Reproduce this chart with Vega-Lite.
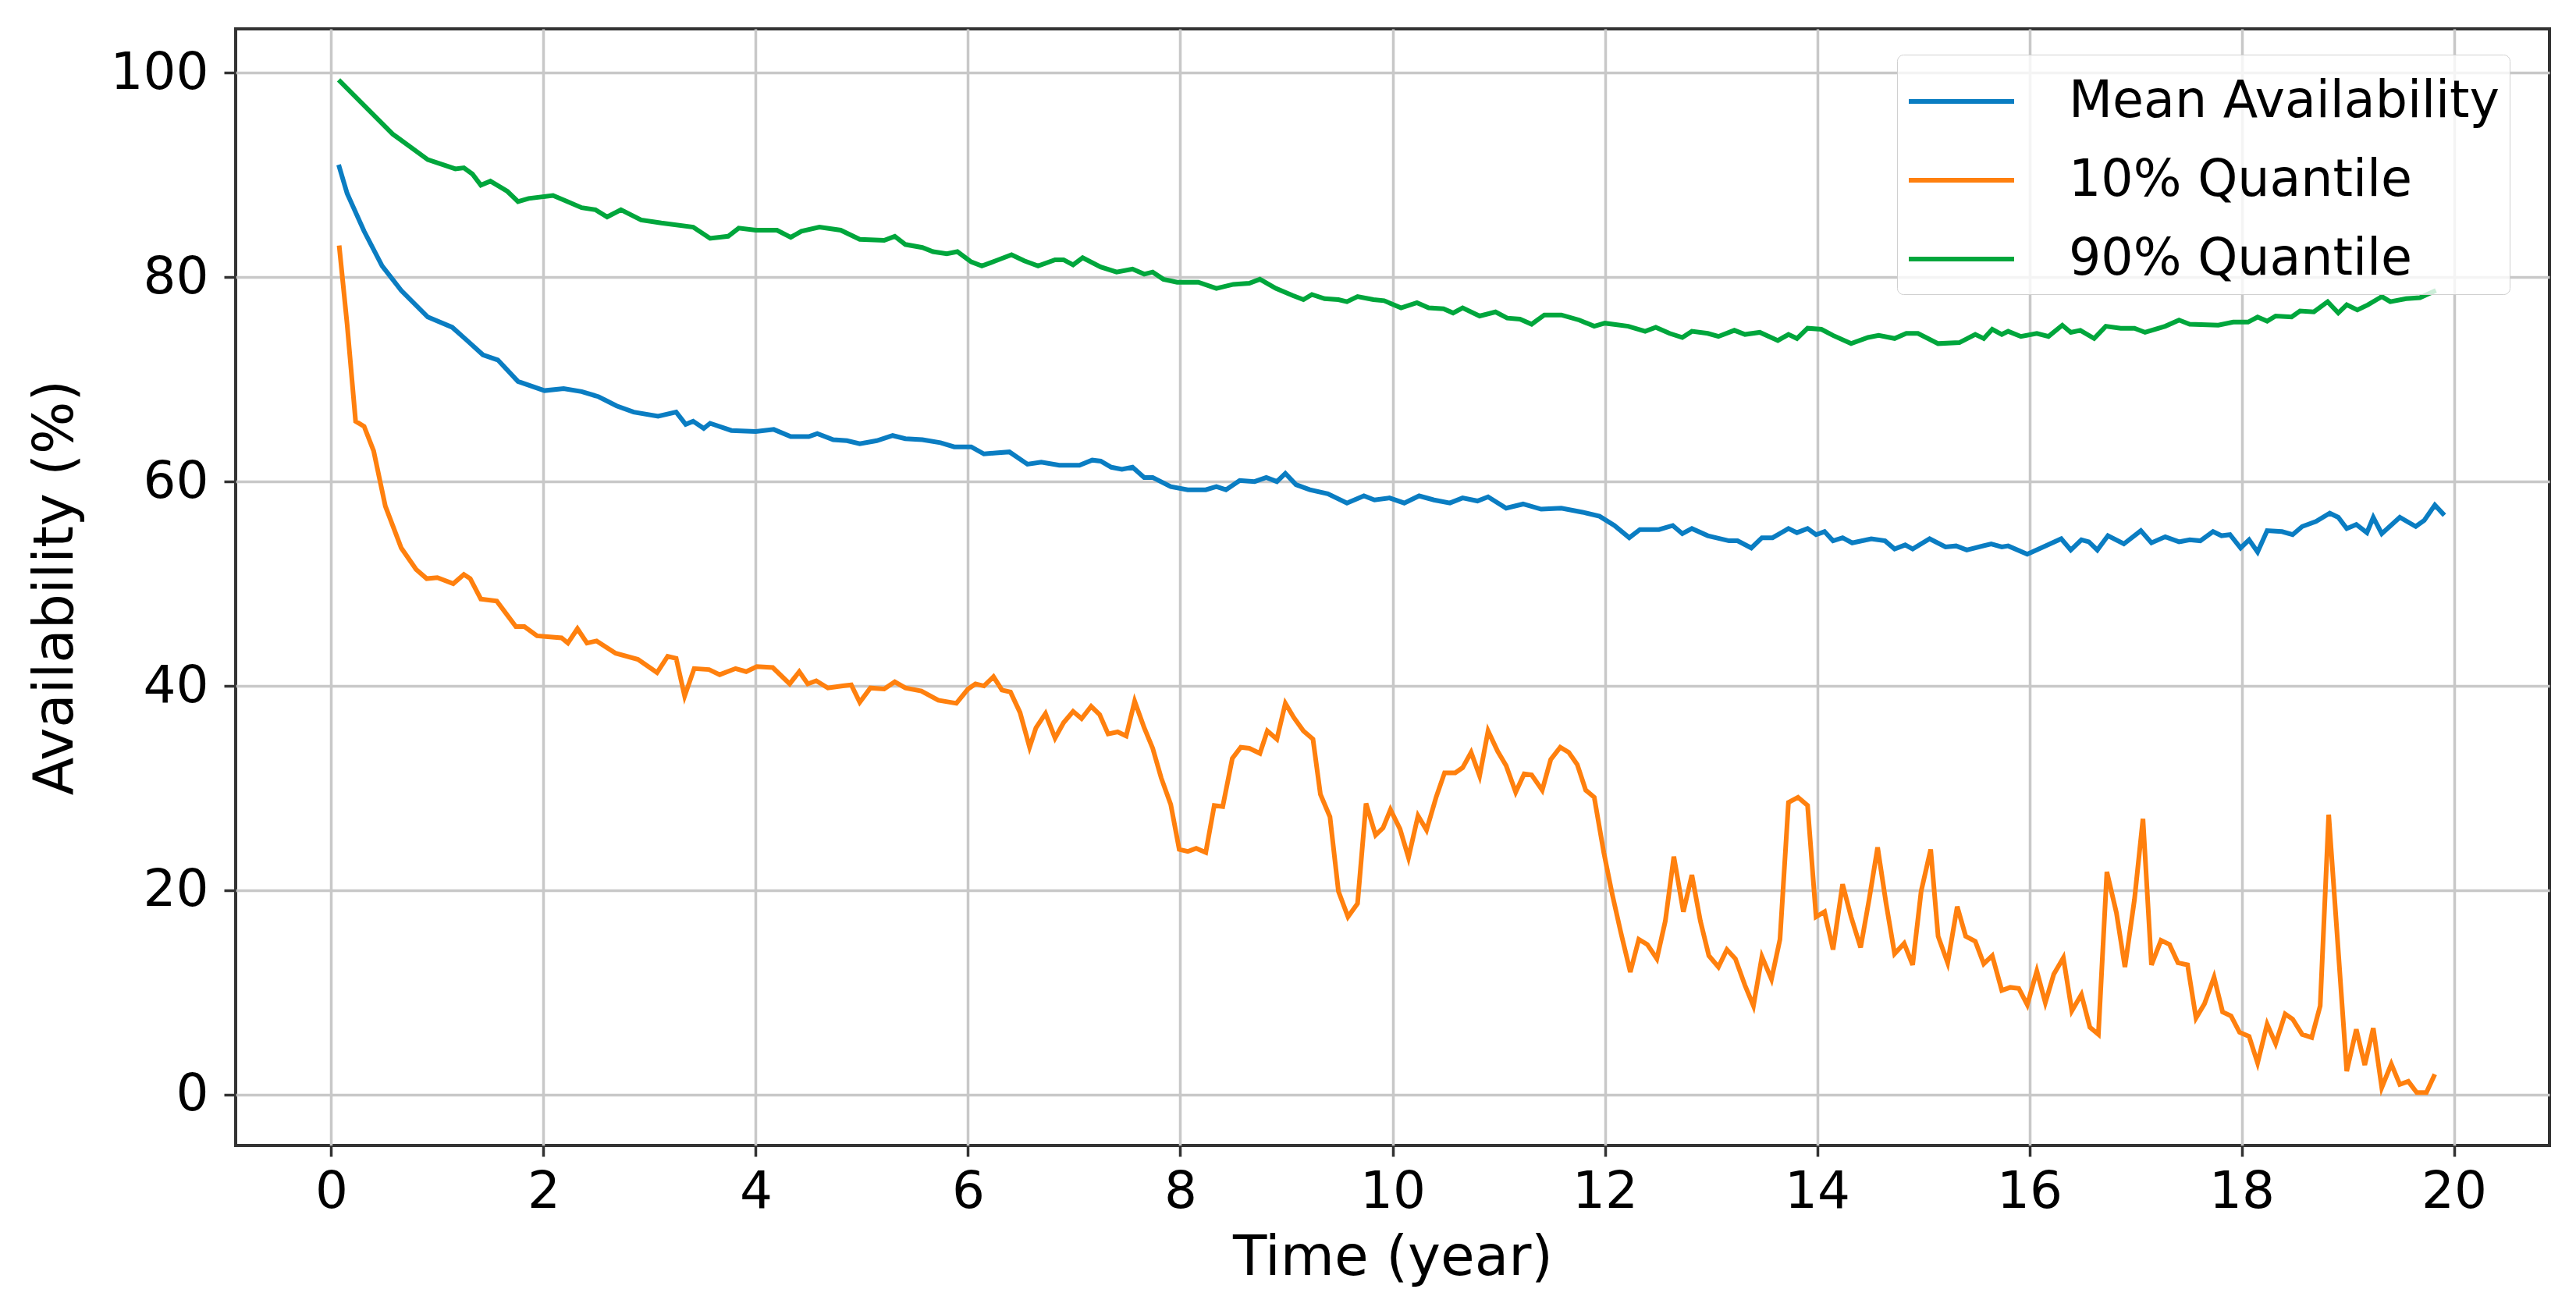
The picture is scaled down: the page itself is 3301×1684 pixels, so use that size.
{
  "$schema": "https://vega.github.io/schema/vega-lite/v6.json",
  "width": 2965,
  "height": 1431,
  "autosize": {"type": "none"},
  "padding": {"left": 302, "top": 37, "right": 34, "bottom": 216},
  "background": "white",
  "encoding": {
    "x": {
      "field": "t",
      "type": "quantitative",
      "title": "Time (year)",
      "scale": {"domain": [-0.9, 20.9], "nice": false, "zero": false},
      "axis": {"values": [0, 2, 4, 6, 8, 10, 12, 14, 16, 18, 20], "labelPadding": 13, "titlePadding": 17, "tickSize": 14}
    },
    "y": {
      "field": "v",
      "type": "quantitative",
      "title": "Availability (%)",
      "scale": {"domain": [-4.97, 104.3], "nice": false, "zero": false},
      "axis": {"values": [0, 20, 40, 60, 80, 100], "labelPadding": 20, "titlePadding": 34, "tickSize": 15}
    }
  },
  "layer": [
    {
      "data": {"values": [
        {"t":0.07,"v":91.0},{"t":0.15,"v":88.2},{"t":0.31,"v":84.5},{"t":0.48,"v":81.1},{"t":0.66,"v":78.7},{"t":0.91,"v":76.1},
        {"t":1.14,"v":75.1},{"t":1.27,"v":73.9},{"t":1.43,"v":72.4},{"t":1.57,"v":71.9},{"t":1.76,"v":69.8},{"t":2.01,"v":68.9},
        {"t":2.19,"v":69.1},{"t":2.36,"v":68.8},{"t":2.52,"v":68.3},{"t":2.69,"v":67.4},{"t":2.85,"v":66.8},{"t":3.08,"v":66.4},
        {"t":3.25,"v":66.8},{"t":3.34,"v":65.6},{"t":3.41,"v":65.9},{"t":3.51,"v":65.2},{"t":3.57,"v":65.7},{"t":3.77,"v":65.0},
        {"t":4.0,"v":64.9},{"t":4.17,"v":65.1},{"t":4.33,"v":64.4},{"t":4.5,"v":64.4},{"t":4.58,"v":64.7},{"t":4.73,"v":64.1},
        {"t":4.86,"v":64.0},{"t":4.98,"v":63.7},{"t":5.14,"v":64.0},{"t":5.29,"v":64.5},{"t":5.41,"v":64.2},{"t":5.57,"v":64.1},
        {"t":5.74,"v":63.8},{"t":5.87,"v":63.4},{"t":6.03,"v":63.4},{"t":6.15,"v":62.7},{"t":6.26,"v":62.8},{"t":6.39,"v":62.9},
        {"t":6.56,"v":61.7},{"t":6.69,"v":61.9},{"t":6.86,"v":61.6},{"t":7.05,"v":61.6},{"t":7.17,"v":62.1},{"t":7.25,"v":62.0},
        {"t":7.35,"v":61.4},{"t":7.45,"v":61.2},{"t":7.55,"v":61.4},{"t":7.66,"v":60.4},{"t":7.74,"v":60.4},{"t":7.91,"v":59.5},
        {"t":8.07,"v":59.2},{"t":8.24,"v":59.2},{"t":8.34,"v":59.5},{"t":8.43,"v":59.2},{"t":8.56,"v":60.1},{"t":8.7,"v":60.0},
        {"t":8.81,"v":60.4},{"t":8.91,"v":60.0},{"t":8.99,"v":60.8},{"t":9.09,"v":59.7},{"t":9.22,"v":59.2},{"t":9.39,"v":58.8},
        {"t":9.57,"v":57.9},{"t":9.73,"v":58.6},{"t":9.83,"v":58.2},{"t":9.97,"v":58.4},{"t":10.11,"v":57.9},{"t":10.25,"v":58.6},
        {"t":10.39,"v":58.2},{"t":10.54,"v":57.9},{"t":10.66,"v":58.4},{"t":10.8,"v":58.1},{"t":10.9,"v":58.5},{"t":11.07,"v":57.4},
        {"t":11.23,"v":57.8},{"t":11.4,"v":57.3},{"t":11.59,"v":57.4},{"t":11.79,"v":57.0},{"t":11.95,"v":56.6},{"t":12.09,"v":55.7},
        {"t":12.23,"v":54.5},{"t":12.33,"v":55.3},{"t":12.51,"v":55.3},{"t":12.64,"v":55.7},{"t":12.73,"v":54.9},{"t":12.82,"v":55.4},
        {"t":12.97,"v":54.7},{"t":13.17,"v":54.2},{"t":13.25,"v":54.2},{"t":13.38,"v":53.5},{"t":13.48,"v":54.5},{"t":13.58,"v":54.5},
        {"t":13.73,"v":55.4},{"t":13.81,"v":55.0},{"t":13.91,"v":55.4},{"t":13.99,"v":54.8},{"t":14.07,"v":55.1},{"t":14.15,"v":54.2},
        {"t":14.24,"v":54.5},{"t":14.33,"v":54.0},{"t":14.51,"v":54.4},{"t":14.64,"v":54.2},{"t":14.73,"v":53.4},{"t":14.83,"v":53.8},
        {"t":14.9,"v":53.4},{"t":15.06,"v":54.4},{"t":15.21,"v":53.6},{"t":15.31,"v":53.7},{"t":15.41,"v":53.3},{"t":15.64,"v":53.9},
        {"t":15.74,"v":53.6},{"t":15.8,"v":53.7},{"t":15.98,"v":52.9},{"t":16.13,"v":53.6},{"t":16.3,"v":54.4},{"t":16.39,"v":53.3},
        {"t":16.49,"v":54.3},{"t":16.56,"v":54.1},{"t":16.64,"v":53.3},{"t":16.74,"v":54.7},{"t":16.89,"v":53.9},{"t":17.05,"v":55.2},
        {"t":17.15,"v":54.0},{"t":17.28,"v":54.6},{"t":17.41,"v":54.1},{"t":17.51,"v":54.3},{"t":17.61,"v":54.2},{"t":17.73,"v":55.1},
        {"t":17.81,"v":54.7},{"t":17.89,"v":54.8},{"t":17.99,"v":53.5},{"t":18.07,"v":54.3},{"t":18.15,"v":53.1},{"t":18.24,"v":55.2},
        {"t":18.38,"v":55.1},{"t":18.48,"v":54.8},{"t":18.57,"v":55.6},{"t":18.7,"v":56.1},{"t":18.83,"v":56.9},{"t":18.91,"v":56.5},
        {"t":18.99,"v":55.4},{"t":19.08,"v":55.8},{"t":19.18,"v":55.0},{"t":19.24,"v":56.5},{"t":19.32,"v":54.9},{"t":19.49,"v":56.5},
        {"t":19.64,"v":55.6},{"t":19.72,"v":56.2},{"t":19.82,"v":57.7},{"t":19.91,"v":56.7}
      ]},
      "mark": {"type": "line", "strokeWidth": 6},
      "encoding": {
        "color": {
          "datum": "Mean Availability",
          "type": "nominal",
          "scale": {
            "domain": ["Mean Availability", "10% Quantile", "90% Quantile"],
            "range": ["#0a7dc2", "#ff800e", "#00a63c"]
          },
          "legend": {"orient": "none", "legendX": 2129, "legendY": 33, "title": null}
        }
      }
    },
    {
      "data": {"values": [
        {"t":0.075,"v":83.1},{"t":0.15,"v":75.4},{"t":0.23,"v":65.9},{"t":0.31,"v":65.4},{"t":0.4,"v":63.0},{"t":0.51,"v":57.6},
        {"t":0.66,"v":53.5},{"t":0.8,"v":51.4},{"t":0.9,"v":50.5},{"t":1.0,"v":50.6},{"t":1.15,"v":50.0},{"t":1.25,"v":50.9},
        {"t":1.31,"v":50.5},{"t":1.41,"v":48.5},{"t":1.56,"v":48.3},{"t":1.74,"v":45.8},{"t":1.82,"v":45.8},{"t":1.94,"v":44.9},
        {"t":2.17,"v":44.7},{"t":2.23,"v":44.2},{"t":2.32,"v":45.6},{"t":2.41,"v":44.2},{"t":2.5,"v":44.4},{"t":2.68,"v":43.2},
        {"t":2.89,"v":42.6},{"t":3.07,"v":41.3},{"t":3.17,"v":42.9},{"t":3.25,"v":42.7},{"t":3.33,"v":39.0},{"t":3.42,"v":41.7},
        {"t":3.56,"v":41.6},{"t":3.66,"v":41.1},{"t":3.81,"v":41.7},{"t":3.91,"v":41.4},{"t":4.01,"v":41.9},{"t":4.16,"v":41.8},
        {"t":4.32,"v":40.2},{"t":4.41,"v":41.4},{"t":4.49,"v":40.2},{"t":4.57,"v":40.5},{"t":4.68,"v":39.8},{"t":4.82,"v":40.0},
        {"t":4.9,"v":40.1},{"t":4.98,"v":38.4},{"t":5.08,"v":39.8},{"t":5.21,"v":39.7},{"t":5.31,"v":40.4},{"t":5.41,"v":39.8},
        {"t":5.56,"v":39.5},{"t":5.72,"v":38.6},{"t":5.89,"v":38.3},{"t":6.0,"v":39.7},{"t":6.07,"v":40.2},{"t":6.15,"v":40.0},
        {"t":6.24,"v":40.9},{"t":6.32,"v":39.6},{"t":6.4,"v":39.4},{"t":6.49,"v":37.4},{"t":6.58,"v":34.0},{"t":6.64,"v":35.9},
        {"t":6.73,"v":37.3},{"t":6.82,"v":34.9},{"t":6.9,"v":36.4},{"t":6.99,"v":37.5},{"t":7.07,"v":36.8},{"t":7.16,"v":38.0},
        {"t":7.24,"v":37.2},{"t":7.32,"v":35.3},{"t":7.41,"v":35.5},{"t":7.49,"v":35.1},{"t":7.57,"v":38.5},{"t":7.66,"v":35.9},
        {"t":7.74,"v":33.9},{"t":7.82,"v":31.0},{"t":7.91,"v":28.4},{"t":7.99,"v":24.0},{"t":8.07,"v":23.8},{"t":8.15,"v":24.1},
        {"t":8.24,"v":23.7},{"t":8.32,"v":28.3},{"t":8.4,"v":28.2},{"t":8.49,"v":32.9},{"t":8.57,"v":34.0},{"t":8.65,"v":33.9},
        {"t":8.75,"v":33.4},{"t":8.82,"v":35.6},{"t":8.91,"v":34.8},{"t":8.99,"v":38.3},{"t":9.07,"v":36.9},{"t":9.16,"v":35.6},
        {"t":9.25,"v":34.8},{"t":9.32,"v":29.4},{"t":9.41,"v":27.2},{"t":9.49,"v":19.9},{"t":9.58,"v":17.4},{"t":9.67,"v":18.7},
        {"t":9.75,"v":28.5},{"t":9.84,"v":25.4},{"t":9.91,"v":26.1},{"t":9.98,"v":27.9},{"t":10.07,"v":26.0},{"t":10.15,"v":23.2},
        {"t":10.24,"v":27.3},{"t":10.32,"v":25.9},{"t":10.41,"v":29.1},{"t":10.49,"v":31.5},{"t":10.59,"v":31.5},{"t":10.66,"v":32.0},
        {"t":10.74,"v":33.5},{"t":10.82,"v":31.2},{"t":10.9,"v":35.6},{"t":10.99,"v":33.6},{"t":11.07,"v":32.2},{"t":11.16,"v":29.6},
        {"t":11.24,"v":31.4},{"t":11.31,"v":31.3},{"t":11.41,"v":29.8},{"t":11.49,"v":32.8},{"t":11.58,"v":34.0},{"t":11.66,"v":33.5},
        {"t":11.74,"v":32.3},{"t":11.82,"v":29.8},{"t":11.9,"v":29.1},{"t":11.99,"v":23.7},{"t":12.07,"v":19.6},{"t":12.15,"v":15.9},
        {"t":12.24,"v":12.0},{"t":12.32,"v":15.2},{"t":12.4,"v":14.7},{"t":12.49,"v":13.3},{"t":12.57,"v":17.0},{"t":12.65,"v":23.3},
        {"t":12.74,"v":17.9},{"t":12.82,"v":21.5},{"t":12.9,"v":17.0},{"t":12.98,"v":13.6},{"t":13.07,"v":12.5},{"t":13.15,"v":14.2},
        {"t":13.23,"v":13.3},{"t":13.32,"v":10.7},{"t":13.4,"v":8.7},{"t":13.48,"v":13.5},{"t":13.57,"v":11.3},{"t":13.65,"v":15.2},
        {"t":13.73,"v":28.6},{"t":13.82,"v":29.1},{"t":13.91,"v":28.3},{"t":13.99,"v":17.4},{"t":14.07,"v":17.9},{"t":14.15,"v":14.2},
        {"t":14.24,"v":20.6},{"t":14.32,"v":17.4},{"t":14.41,"v":14.4},{"t":14.49,"v":19.1},{"t":14.57,"v":24.2},{"t":14.65,"v":18.7},
        {"t":14.73,"v":13.8},{"t":14.82,"v":14.8},{"t":14.9,"v":12.7},{"t":14.98,"v":19.9},{"t":15.07,"v":24.0},{"t":15.14,"v":15.5},
        {"t":15.23,"v":12.9},{"t":15.32,"v":18.4},{"t":15.4,"v":15.5},{"t":15.49,"v":15.0},{"t":15.57,"v":12.8},{"t":15.65,"v":13.6},
        {"t":15.74,"v":10.2},{"t":15.82,"v":10.5},{"t":15.9,"v":10.4},{"t":15.98,"v":8.8},{"t":16.07,"v":12.1},{"t":16.15,"v":9.0},
        {"t":16.23,"v":11.8},{"t":16.32,"v":13.4},{"t":16.4,"v":8.2},{"t":16.49,"v":9.8},{"t":16.57,"v":6.6},{"t":16.65,"v":5.9},
        {"t":16.73,"v":21.8},{"t":16.82,"v":17.8},{"t":16.9,"v":12.5},{"t":16.99,"v":19.1},{"t":17.07,"v":27.0},{"t":17.15,"v":12.7},
        {"t":17.24,"v":15.1},{"t":17.32,"v":14.7},{"t":17.4,"v":12.9},{"t":17.49,"v":12.7},{"t":17.57,"v":7.5},{"t":17.65,"v":8.9},
        {"t":17.74,"v":11.5},{"t":17.82,"v":8.1},{"t":17.9,"v":7.7},{"t":17.98,"v":6.1},{"t":18.07,"v":5.7},{"t":18.15,"v":3.1},
        {"t":18.24,"v":6.9},{"t":18.32,"v":5.0},{"t":18.41,"v":7.9},{"t":18.48,"v":7.4},{"t":18.57,"v":5.9},{"t":18.66,"v":5.6},
        {"t":18.74,"v":8.7},{"t":18.82,"v":27.4},{"t":18.99,"v":2.3},{"t":19.08,"v":6.4},{"t":19.16,"v":2.9},{"t":19.24,"v":6.5},
        {"t":19.32,"v":0.7},{"t":19.41,"v":3.0},{"t":19.49,"v":1.0},{"t":19.57,"v":1.3},{"t":19.65,"v":0.2},{"t":19.74,"v":0.2},
        {"t":19.82,"v":2.0}
      ]},
      "mark": {"type": "line", "strokeWidth": 6},
      "encoding": {"color": {"datum": "10% Quantile", "type": "nominal"}}
    },
    {
      "data": {"values": [
        {"t":0.07,"v":99.3},{"t":0.31,"v":96.8},{"t":0.58,"v":94.0},{"t":0.91,"v":91.5},{"t":1.17,"v":90.6},{"t":1.25,"v":90.7},
        {"t":1.33,"v":90.1},{"t":1.41,"v":89.0},{"t":1.5,"v":89.4},{"t":1.66,"v":88.4},{"t":1.76,"v":87.4},{"t":1.86,"v":87.7},
        {"t":2.09,"v":88.0},{"t":2.36,"v":86.8},{"t":2.49,"v":86.6},{"t":2.6,"v":85.9},{"t":2.73,"v":86.6},{"t":2.92,"v":85.6},
        {"t":3.11,"v":85.3},{"t":3.41,"v":84.9},{"t":3.57,"v":83.8},{"t":3.74,"v":84.0},{"t":3.84,"v":84.8},{"t":4.0,"v":84.6},
        {"t":4.2,"v":84.6},{"t":4.33,"v":83.9},{"t":4.43,"v":84.5},{"t":4.6,"v":84.9},{"t":4.8,"v":84.6},{"t":4.98,"v":83.7},
        {"t":5.21,"v":83.6},{"t":5.31,"v":84.0},{"t":5.41,"v":83.2},{"t":5.57,"v":82.9},{"t":5.67,"v":82.5},{"t":5.8,"v":82.3},
        {"t":5.9,"v":82.5},{"t":6.03,"v":81.5},{"t":6.13,"v":81.1},{"t":6.26,"v":81.6},{"t":6.41,"v":82.2},{"t":6.53,"v":81.6},
        {"t":6.66,"v":81.1},{"t":6.82,"v":81.7},{"t":6.9,"v":81.7},{"t":6.99,"v":81.2},{"t":7.08,"v":81.9},{"t":7.25,"v":81.0},
        {"t":7.4,"v":80.5},{"t":7.55,"v":80.8},{"t":7.66,"v":80.3},{"t":7.74,"v":80.5},{"t":7.84,"v":79.8},{"t":7.97,"v":79.5},
        {"t":8.17,"v":79.5},{"t":8.34,"v":78.9},{"t":8.5,"v":79.3},{"t":8.65,"v":79.4},{"t":8.75,"v":79.8},{"t":8.9,"v":78.9},
        {"t":9.06,"v":78.2},{"t":9.16,"v":77.8},{"t":9.24,"v":78.3},{"t":9.36,"v":77.9},{"t":9.49,"v":77.8},{"t":9.57,"v":77.6},
        {"t":9.67,"v":78.1},{"t":9.82,"v":77.8},{"t":9.92,"v":77.7},{"t":10.08,"v":77.0},{"t":10.23,"v":77.5},{"t":10.34,"v":77.0},
        {"t":10.48,"v":76.9},{"t":10.57,"v":76.5},{"t":10.66,"v":77.0},{"t":10.82,"v":76.2},{"t":10.97,"v":76.6},{"t":11.08,"v":76.0},
        {"t":11.2,"v":75.9},{"t":11.31,"v":75.4},{"t":11.43,"v":76.3},{"t":11.59,"v":76.3},{"t":11.76,"v":75.8},{"t":11.9,"v":75.2},
        {"t":12.0,"v":75.5},{"t":12.22,"v":75.2},{"t":12.38,"v":74.7},{"t":12.48,"v":75.1},{"t":12.61,"v":74.5},{"t":12.73,"v":74.1},
        {"t":12.82,"v":74.7},{"t":12.97,"v":74.5},{"t":13.07,"v":74.2},{"t":13.22,"v":74.8},{"t":13.32,"v":74.4},{"t":13.46,"v":74.6},
        {"t":13.63,"v":73.8},{"t":13.73,"v":74.4},{"t":13.81,"v":74.0},{"t":13.91,"v":75.0},{"t":14.04,"v":74.9},{"t":14.15,"v":74.3},
        {"t":14.32,"v":73.5},{"t":14.48,"v":74.1},{"t":14.58,"v":74.3},{"t":14.73,"v":74.0},{"t":14.84,"v":74.5},{"t":14.95,"v":74.5},
        {"t":15.14,"v":73.5},{"t":15.34,"v":73.6},{"t":15.49,"v":74.4},{"t":15.57,"v":74.0},{"t":15.65,"v":74.9},{"t":15.74,"v":74.4},
        {"t":15.8,"v":74.7},{"t":15.92,"v":74.2},{"t":16.07,"v":74.5},{"t":16.18,"v":74.2},{"t":16.31,"v":75.3},{"t":16.39,"v":74.6},
        {"t":16.48,"v":74.8},{"t":16.61,"v":74.0},{"t":16.72,"v":75.2},{"t":16.86,"v":75.0},{"t":16.99,"v":75.0},{"t":17.09,"v":74.6},
        {"t":17.28,"v":75.2},{"t":17.41,"v":75.8},{"t":17.51,"v":75.4},{"t":17.78,"v":75.3},{"t":17.92,"v":75.6},{"t":18.06,"v":75.6},
        {"t":18.15,"v":76.1},{"t":18.24,"v":75.7},{"t":18.32,"v":76.2},{"t":18.47,"v":76.1},{"t":18.55,"v":76.7},{"t":18.68,"v":76.6},
        {"t":18.81,"v":77.6},{"t":18.91,"v":76.5},{"t":18.99,"v":77.3},{"t":19.09,"v":76.8},{"t":19.19,"v":77.3},{"t":19.32,"v":78.1},
        {"t":19.4,"v":77.6},{"t":19.55,"v":77.9},{"t":19.68,"v":78.0},{"t":19.83,"v":78.7}
      ]},
      "mark": {"type": "line", "strokeWidth": 6},
      "encoding": {"color": {"datum": "90% Quantile", "type": "nominal"}}
    }
  ],
  "config": {
    "font": "DejaVu Sans",
    "view": {"stroke": "#333333", "strokeWidth": 4},
    "axis": {
      "labelFont": "DejaVu Sans",
      "titleFont": "DejaVu Sans",
      "labelFontSize": 66,
      "titleFontSize": 71,
      "titleFontWeight": "normal",
      "labelColor": "#000000",
      "titleColor": "#000000",
      "domain": false,
      "grid": true,
      "gridColor": "#c8c8c8",
      "gridWidth": 3.5,
      "tickColor": "#333333",
      "tickWidth": 3.5
    },
    "legend": {
      "labelFont": "DejaVu Sans",
      "labelFontSize": 65,
      "labelColor": "#000000",
      "labelLimit": 0,
      "symbolType": "M-1,0H2",
      "symbolSize": 8100,
      "symbolStrokeWidth": 6,
      "labelOffset": 112,
      "padding": 12,
      "rowPadding": 20,
      "fillColor": "rgba(255,255,255,0.8)",
      "strokeColor": "#d0d0d0",
      "cornerRadius": 8
    }
  }
}
